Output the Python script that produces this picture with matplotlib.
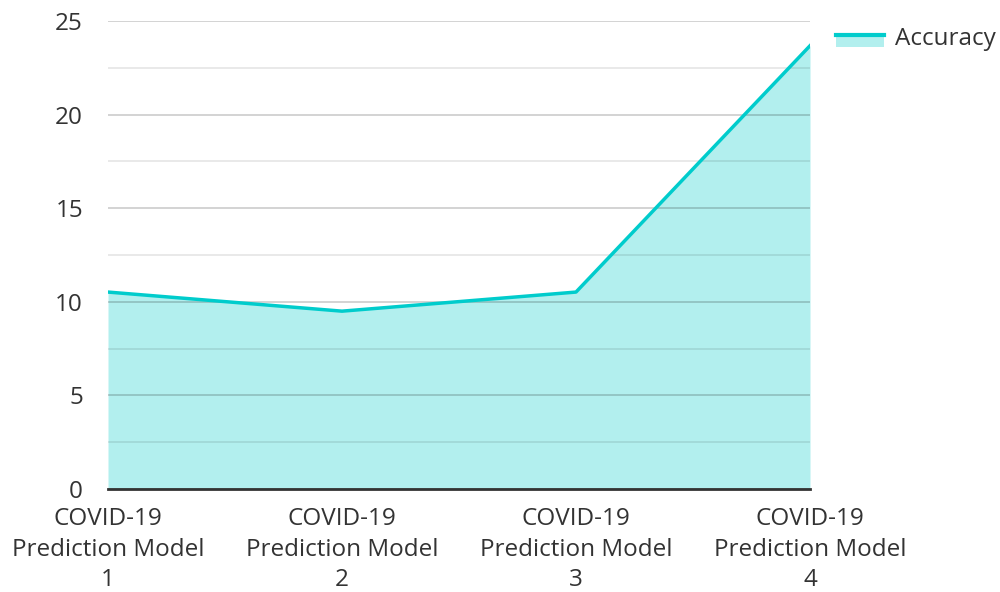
import matplotlib.pyplot as plt
import numpy as np
from matplotlib.patches import Rectangle, Patch
from matplotlib.lines import Line2D
from matplotlib.legend_handler import HandlerBase

plt.rcParams['font.family'] = ['Open Sans', 'DejaVu Sans']

categories = ['COVID-19\nPrediction Model\n1', 'COVID-19\nPrediction Model\n2',
              'COVID-19\nPrediction Model\n3', 'COVID-19\nPrediction Model\n4']
accuracy = [10.52, 9.5, 10.52, 23.68]

line_color = '#00cccc'
fill_color = '#b2efee'


class AreaHandler(HandlerBase):
    # line on top edge, fill below it
    def create_artists(self, legend, orig_handle, xdescent, ydescent,
                       width, height, fontsize, trans):
        top = height * 0.6
        h = height * 0.7
        rect = Rectangle((-xdescent, -ydescent + top - h), width, h,
                         facecolor=fill_color, edgecolor='none', transform=trans)
        ln = Line2D([-xdescent, -xdescent + width], [-ydescent + top] * 2,
                    color=line_color, lw=3, transform=trans)
        return [rect, ln]


fig = plt.figure(figsize=(10, 5.92), dpi=100)
ax = fig.add_axes([0.108, 0.174, 0.702, 0.7905])

x = np.arange(len(categories))
ax.fill_between(x, 0, accuracy, color=fill_color, lw=0, zorder=1)
ax.plot(x, accuracy, color=line_color, lw=2.5, zorder=3)

ax.set_xlim(0, 3)
ax.set_ylim(0, 25)
ax.set_yticks([0, 5, 10, 15, 20, 25])
ax.set_yticks([2.5, 7.5, 12.5, 17.5, 22.5], minor=True)
ax.grid(axis='y', which='major', color='#000000', alpha=0.2, lw=1.2, zorder=2)
ax.grid(axis='y', which='minor', color='#000000', alpha=0.1, lw=1.2, zorder=2)
ax.set_axisbelow(False)

for s in ['left', 'right', 'top']:
    ax.spines[s].set_visible(False)
ax.spines['bottom'].set_color('#333333')
ax.spines['bottom'].set_linewidth(2)
ax.spines['bottom'].set_zorder(4)

ax.set_xticks(x)
ax.set_xticklabels(categories, fontsize=17.5, color='#333333', linespacing=1.37)
ax.tick_params(axis='both', which='both', length=0, labelsize=17.5, colors='#333333')
ax.tick_params(axis='y', pad=18)
ax.tick_params(axis='x', pad=13)

leg = fig.legend([Patch()], ['Accuracy'], handler_map={Patch: AreaHandler()},
                 loc='upper left', bbox_to_anchor=(0.826, 0.97),
                 frameon=False, fontsize=17.5, handlelength=2.0, handleheight=0.7,
                 handletextpad=0.45, borderaxespad=0)
for t in leg.get_texts():
    t.set_color('#333333')

fig.savefig('out.png', dpi=100)
